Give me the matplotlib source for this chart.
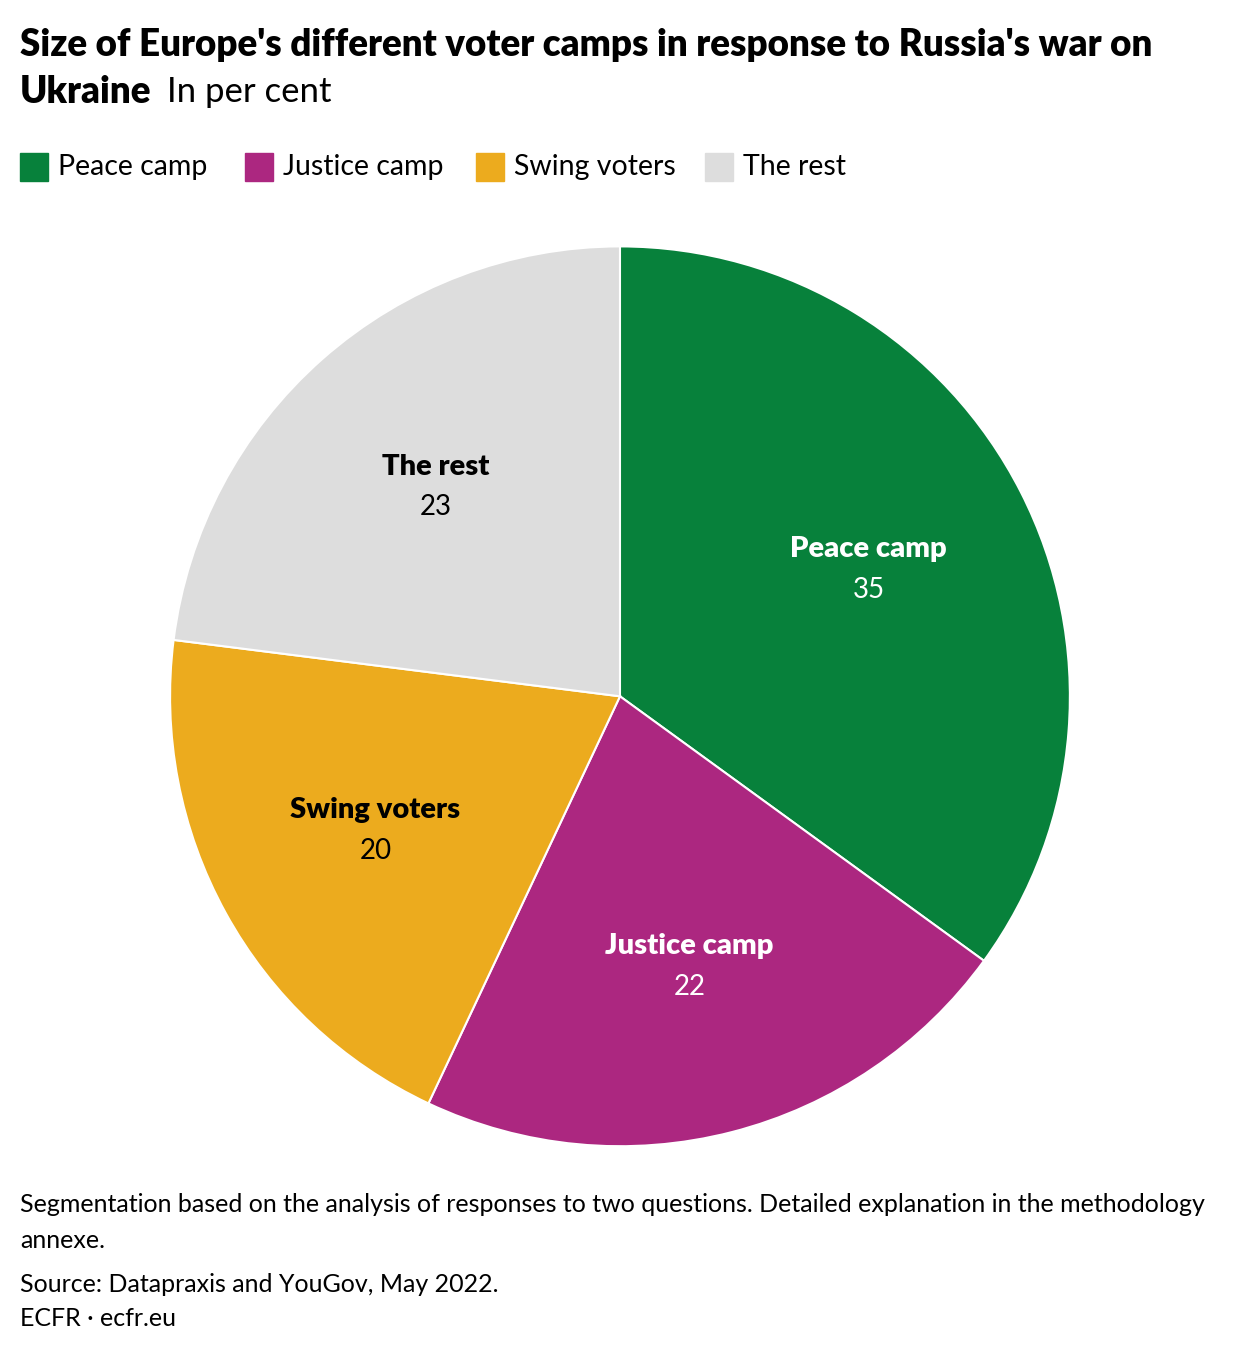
import matplotlib
matplotlib.use("Agg")
import matplotlib.pyplot as plt
from matplotlib.patches import Rectangle
import numpy as np

categories = ["Peace camp", "Justice camp", "Swing voters", "The rest"]
values = [35, 22, 20, 23]
colors = ["#07813b", "#ac2780", "#ecab1e", "#dddddd"]
text_colors = ["white", "white", "black", "black"]

plt.rcParams['font.family'] = ['Lato', 'DejaVu Sans']
fig = plt.figure(figsize=(12.36, 13.68), dpi=100)

fig.text(20/1236, 1-45/1368, "Size of Europe's different voter camps in response to Russia's war on",
         fontsize=26.5, fontweight='heavy', va='center', ha='left')
fig.text(20/1236, 1-92/1368, "Ukraine", fontsize=26.5, fontweight='heavy', va='center', ha='left')
fig.text(167/1236, 1-92/1368, "In per cent", fontsize=25, va='center', ha='left')

lx = [20, 245, 476, 705]
for x, c, col in zip(lx, categories, colors):
    fig.patches.append(Rectangle((x/1236, 1-181/1368), 28/1236, 28/1368, color=col, transform=fig.transFigure))
    fig.text((x+38)/1236, 1-167/1368, c, fontsize=20.5, va='center', ha='left')

ax = fig.add_axes([0.5016-0.364, 0.491-0.329, 0.728, 0.658])
wedges, _ = ax.pie(values, colors=colors, startangle=90, counterclock=False,
                   wedgeprops=dict(edgecolor='white', linewidth=1.5))
ax.set_xlim(-1, 1)
ax.set_ylim(-1, 1)
ax.set_aspect('equal')
for w, c, v, tc in zip(wedges, categories, values, text_colors):
    ang = np.deg2rad((w.theta1 + w.theta2) / 2)
    r = 0.62
    x, y = r*np.cos(ang), r*np.sin(ang)
    ax.text(x, y + 0.045, c, ha='center', va='center', fontsize=21, fontweight='heavy', color=tc)
    ax.text(x, y - 0.045, str(v), ha='center', va='center', fontsize=20, color=tc)

fig.text(20/1236, 1-1205/1368, "Segmentation based on the analysis of responses to two questions. Detailed explanation in the methodology",
         fontsize=18, va='center', ha='left')
fig.text(20/1236, 1-1240/1368, "annexe.", fontsize=18, va='center', ha='left')
fig.text(20/1236, 1-1284/1368, "Source: Datapraxis and YouGov, May 2022.", fontsize=18, va='center', ha='left')
fig.text(20/1236, 1-1319/1368, "ECFR · ecfr.eu", fontsize=18, va='center', ha='left')

fig.savefig("out.png", dpi=100, facecolor='white')
